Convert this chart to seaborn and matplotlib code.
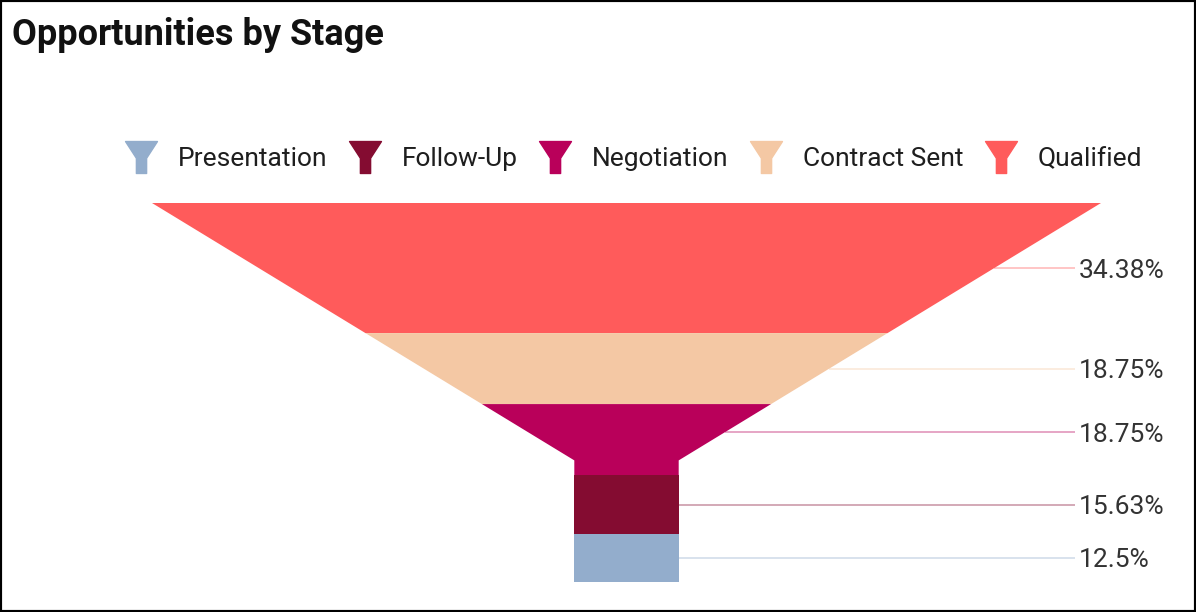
import numpy as np
import matplotlib
matplotlib.use("Agg")
import matplotlib.pyplot as plt
from matplotlib.path import Path
from matplotlib.lines import Line2D
from matplotlib.patches import Rectangle
import seaborn as sns

# data (top of funnel first)
stages = ["Qualified", "Contract Sent", "Negotiation", "Follow-Up", "Presentation"]
shares = [34.38, 18.75, 18.75, 15.63, 12.5]
colors = ["#ff5b5b", "#f4c8a4", "#b9005a", "#840c31", "#93adcc"]

title = "Opportunities by Stage"

sns.set_theme(style="white")
plt.rcParams['font.family'] = ['Roboto', 'DejaVu Sans']

# funnel shape settings
neck_w = 0.11      # fraction of top width
neck_h = 0.32      # fraction of total height
total = sum(shares)
neck_y = total * (1 - neck_h)


def half_width(y):
    if y <= neck_y:
        return 0.5 * (1 - (1 - neck_w) * y / neck_y)
    return 0.5 * neck_w


W, H = 1196, 612
fig = plt.figure(figsize=(W / 100, H / 100), dpi=100)
ax = fig.add_axes([152 / W, 1 - 581.5 / H, 949 / W, 378.5 / H])
ax.set_xlim(-0.5, 0.5)
ax.set_ylim(total, 0)
ax.axis("off")

cum = np.concatenate([[0], np.cumsum(shares)])
for i, (stage, val, col) in enumerate(zip(stages, shares, colors)):
    a, b = cum[i], cum[i + 1]
    ys = [a] + ([neck_y] if a < neck_y < b else []) + [b]
    right = [(half_width(y), y) for y in ys]
    left = [(-half_width(y), y) for y in reversed(ys)]
    pts = np.array(right + left)
    ax.fill(pts[:, 0], pts[:, 1], color=col, lw=0)

    # label sits at middle of the sloped part when segment crosses the neck
    if a < neck_y < b:
        ly = (a + neck_y) / 2
    else:
        ly = (a + b) / 2
    ax.plot([half_width(ly), 0.473], [ly, ly], color=col, alpha=0.45, lw=1.1,
            clip_on=False, solid_capstyle="butt")
    ax.text(0.4765, ly, f"{val:g}%", ha="left", va="center_baseline", fontsize=19,
            color="#333333", clip_on=False)

# legend with funnel icons
funnel = Path([(-1, 1), (1, 1), (0.32, -0.05), (0.32, -1), (-0.32, -1),
               (-0.32, -0.05), (-1, 1)],
              [Path.MOVETO] + [Path.LINETO] * 5 + [Path.CLOSEPOLY])
handles = [Line2D([], [], marker=funnel, color=c, markersize=23, lw=0)
           for c in colors[::-1]]
fig.legend(handles, stages[::-1], loc="center", ncol=5,
           bbox_to_anchor=(635 / W, 1 - 159 / H), frameon=False,
           fontsize=19, handletextpad=0.9, columnspacing=0.92,
           handlelength=1.0, labelcolor="#1e1e1e")

fig.text(12 / W, 1 - 35 / H, title, fontsize=26, fontweight="bold",
         ha="left", va="center", color="#111111")

fig.add_artist(Rectangle((0, 0), 1, 1, transform=fig.transFigure,
                         fill=False, edgecolor="black", lw=3))

fig.savefig("out.png", dpi=100)
